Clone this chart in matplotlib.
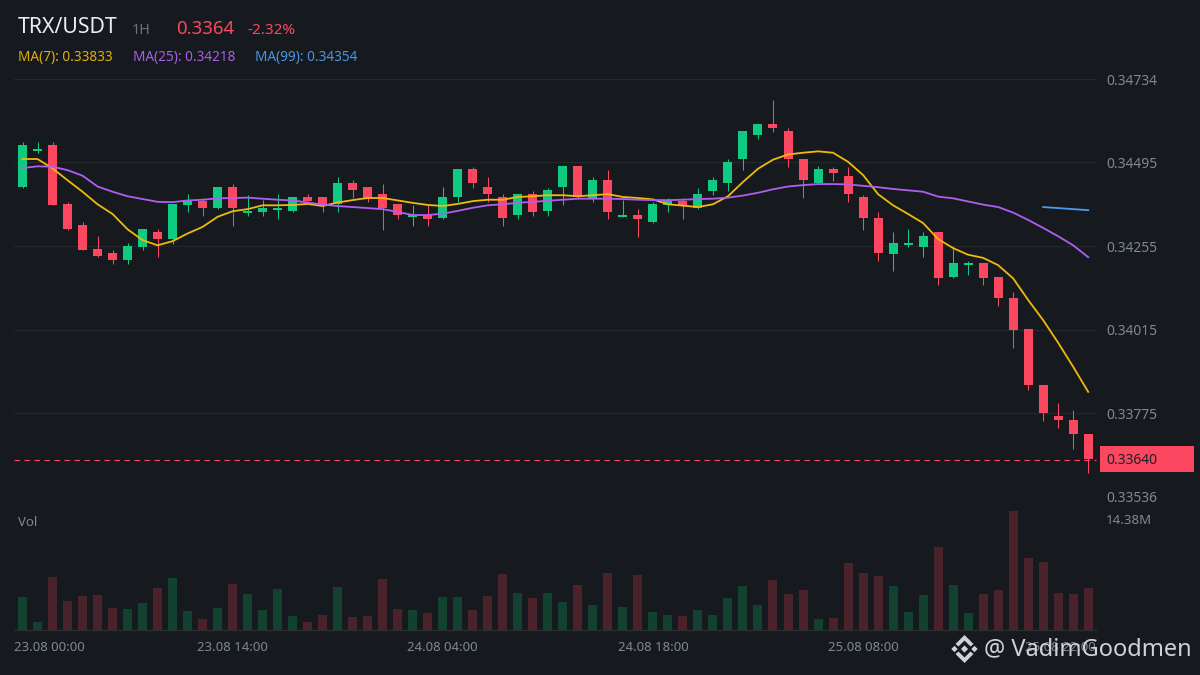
import matplotlib
matplotlib.use("Agg")
import matplotlib.pyplot as plt
from matplotlib.patches import Rectangle, Polygon
from matplotlib.transforms import IdentityTransform

plt.rcParams['font.family'] = ['Noto Sans', 'DejaVu Sans']

# Each candle: high, body top, body bottom, low (prices)
highs = [.34553,.34553,.34553,.34381,.34324,.34283,.34243,.34263,.34304,.34304,.34375,.34404,.34393,.34424,.34433,.34401,.34387,.34404,.34395,.34404,.34395,.34453,.34444,.34424,.34433,.34375,.34372,.34372,.34424,.34476,.34482,.34453,.34404,.34404,.34413,.34421,.34485,.34485,.34453,.34473,.34387,.34361,.34381,.34393,.34393,.34421,.34453,.34505,.34585,.34605,.34674,.34594,.34505,.34485,.34482,.34482,.34401,.34352,.34295,.34304,.34295,.34295,.34255,.34212,.34206,.34166,.34123,.34016,.33855,.33804,.33784,.33715]
body_top = [.34545,.34533,.34545,.34375,.34315,.34246,.34235,.34255,.34304,.34295,.34375,.34384,.34384,.34424,.34424,.34355,.34364,.34364,.34395,.34395,.34395,.34436,.34436,.34424,.34404,.34375,.34344,.34344,.34395,.34476,.34476,.34424,.34395,.34404,.34404,.34416,.34485,.34485,.34444,.34444,.34344,.34344,.34375,.34384,.34384,.34404,.34444,.34496,.34585,.34605,.34605,.34585,.34505,.34476,.34476,.34456,.34395,.34335,.34263,.34263,.34283,.34295,.34206,.34206,.34206,.34166,.34105,.34016,.33855,.33766,.33755,.33715]
body_bottom = [.34424,.34528,.34372,.34304,.34243,.34226,.34214,.34214,.34252,.34275,.34275,.34372,.34364,.34364,.34364,.34349,.34352,.34358,.34355,.34384,.34370,.34375,.34416,.34390,.34364,.34344,.34338,.34332,.34335,.34395,.34436,.34404,.34335,.34344,.34352,.34355,.34424,.34395,.34393,.34352,.34338,.34332,.34324,.34372,.34370,.34364,.34413,.34436,.34505,.34574,.34594,.34505,.34444,.34436,.34464,.34404,.34335,.34235,.34232,.34258,.34252,.34163,.34166,.34200,.34163,.34105,.34013,.33855,.33775,.33755,.33715,.33643]
lows = [.34421,.34523,.34372,.34301,.34243,.34223,.34203,.34203,.34243,.34223,.34260,.34352,.34341,.34361,.34312,.34341,.34341,.34332,.34352,.34384,.34352,.34352,.34393,.34381,.34301,.34332,.34312,.34312,.34332,.34381,.34421,.34381,.34312,.34332,.34341,.34341,.34372,.34393,.34381,.34332,.34338,.34281,.34321,.34352,.34332,.34361,.34401,.34413,.34473,.34562,.34582,.34482,.34393,.34436,.34441,.34381,.34301,.34212,.34183,.34252,.34223,.34143,.34163,.34171,.34143,.34082,.33962,.33841,.33752,.33732,.33672,.33603]
is_up = [1,1,0,0,0,0,0,1,1,0,1,1,0,1,0,1,1,1,1,0,0,1,0,0,0,0,1,0,1,1,0,0,0,1,0,1,1,0,1,0,1,0,1,1,0,1,1,1,1,1,0,0,0,1,0,0,0,0,1,1,1,0,1,1,0,0,0,0,0,0,0,0]
volumes = [4.02,.97,6.46,3.53,4.14,4.27,2.68,2.56,3.29,5.12,6.34,2.32,1.34,2.68,5.61,4.39,2.44,5.00,1.71,.97,1.83,5.24,1.58,1.71,6.22,2.56,2.44,2.07,4.02,4.02,2.44,4.14,6.82,4.51,3.90,4.51,3.41,5.48,3.05,6.94,2.80,6.70,2.19,1.83,1.71,2.44,1.83,3.90,5.36,3.05,6.09,4.39,4.87,1.34,1.46,8.04,6.94,6.58,5.36,2.19,4.27,9.99,5.48,2.07,4.39,4.87,14.38,8.65,8.16,4.51,4.39,5.12]
vol_colors_up = [1,1,0,0,0,0,0,1,1,0,1,1,0,1,0,1,1,1,1,0,0,1,0,0,0,0,1,0,1,1,0,0,0,1,0,1,1,0,1,0,1,0,1,1,0,1,1,1,1,1,0,0,0,1,0,0,0,0,1,1,1,0,1,1,0,0,0,0,0,0,0,0]
ma7 = [.34505,.34505,.34478,.34444,.34411,.34375,.34347,.34303,.34272,.34257,.34269,.34291,.34310,.34339,.34355,.34361,.34372,.34372,.34373,.34376,.34370,.34380,.34387,.34393,.34393,.34386,.34379,.34373,.34370,.34376,.34384,.34388,.34388,.34396,.34398,.34401,.34401,.34398,.34401,.34404,.34396,.34393,.34389,.34375,.34371,.34367,.34375,.34398,.34439,.34477,.34503,.34518,.34523,.34527,.34523,.34497,.34459,.34404,.34372,.34347,.34321,.34275,.34249,.34230,.34221,.34200,.34162,.34100,.34042,.33977,.33908,.33836]
ma25 = [.34479,.34484,.34483,.34473,.34457,.34426,.34411,.34398,.34390,.34382,.34381,.34386,.34388,.34392,.34393,.34394,.34391,.34388,.34386,.34380,.34374,.34370,.34367,.34364,.34361,.34353,.34344,.34344,.34348,.34356,.34365,.34372,.34375,.34379,.34382,.34385,.34388,.34391,.34391,.34391,.34390,.34388,.34387,.34387,.34388,.34390,.34391,.34394,.34400,.34408,.34418,.34426,.34430,.34433,.34433,.34432,.34428,.34424,.34419,.34415,.34411,.34397,.34392,.34383,.34374,.34367,.34351,.34330,.34307,.34283,.34257,.34223]
ma99_start = 68
ma99 = [.34367,.34364,.34361,.34358]
price_ticks = [0.34734,0.34495,0.34255,0.34015,0.33775,0.33536]
last_price = 0.3364
time_labels = ["23.08 00:00","23.08 14:00","24.08 04:00","24.08 18:00","25.08 08:00","25.08 22:00"]
time_ticks = [0,14,28,42,56,70]
vol_max = 14.38

BG = "#161A1E"
UP = "#0ECB81"
DOWN = "#FC4761"
UP_V = "#12422F"
DOWN_V = "#4A2229"
GRID = "#24272C"
TXT = "#7F8791"

W, H = 1200, 675
def fx(p): return p / W
def fy(p): return 1 - p / H

fig = plt.figure(figsize=(12, 6.75), dpi=100, facecolor=BG)
L, R = 14, 1096
x0 = -8.5 / 15.01
x1 = (R - 22.5) / 15.01

ax = fig.add_axes([fx(L), fy(496.3), fx(R - L), (496.3 - 79.3) / H], facecolor="none")
n = len(highs)
xs = list(range(n))
ax.set_xlim(x0, x1)
ax.set_ylim(price_ticks[-1], price_ticks[0])
cols = [UP if u else DOWN for u in is_up]
ax.vlines(xs, lows, highs, colors=cols, linewidth=0.75, zorder=3)
ax.bar(xs, [t - b for t, b in zip(body_top, body_bottom)], bottom=body_bottom, width=9 / 15.01,
       color=cols, linewidth=0, zorder=3)
ax.plot(xs, ma7, color="#F0B90B", lw=1.3, zorder=4)
ax.plot(xs, ma25, color="#B05EF0", lw=1.3, zorder=4)
ax.plot(xs[ma99_start:], ma99, color="#4A9BF0", lw=1.3, zorder=4)
ax.axhline(last_price, color=DOWN, lw=0.8, dashes=(5, 4), zorder=2, clip_on=False)
ax.yaxis.tick_right()
ax.set_yticks(price_ticks)
ax.set_yticklabels([f"{v:.5f}" for v in price_ticks], color=TXT, fontsize=10)
ax.set_xticks([])
ax.tick_params(axis='y', length=0, pad=7.2)
ax.grid(axis='y', color=GRID, lw=0.9, zorder=0)
for s in ax.spines.values():
    s.set_visible(False)

# last price tag
ax.add_patch(Rectangle((fx(1100), fy(472)), fx(94), 26 / H, transform=fig.transFigure,
                       facecolor=DOWN, edgecolor="none", zorder=5, clip_on=False))
ax.text((1106 - L) / (R - L), last_price, f"{last_price:.5f}", transform=ax.get_yaxis_transform(),
        color="#1E2026", fontsize=10, va="center", ha="left", clip_on=False, zorder=6)

# volume panel
vtop = 500
vax = fig.add_axes([fx(L), fy(630), fx(R - L), (630 - vtop) / H], facecolor="none")
vax.set_xlim(x0, x1)
vax.set_ylim(0, vol_max * (630 - vtop) / (630 - 511))
vax.bar(xs, volumes, width=9 / 15.01, color=[UP_V if u else DOWN_V for u in vol_colors_up], linewidth=0)
vax.set_yticks([])
vax.set_xticks(time_ticks[1:-1])
vax.set_xticklabels(time_labels[1:-1], color=TXT, fontsize=9.5)
vax.tick_params(axis='x', length=0, pad=8)
for k, s in vax.spines.items():
    s.set_visible(k == "bottom")
vax.spines["bottom"].set_color("#2B2F36")
vax.spines["bottom"].set_linewidth(0.9)
vax.text(0, -17.5 / 130, time_labels[0], transform=vax.transAxes, color=TXT, fontsize=9.5, ha="left", va="center")
vax.text(1, -17.5 / 130, time_labels[-1], transform=vax.transAxes, color=TXT, fontsize=9.5, ha="right", va="center")

def T(px, py, s, c, size, **kw):
    fig.text(fx(px), fy(py), s, color=c, fontsize=size, va="center", ha=kw.pop("ha", "left"), **kw)

T(18, 27.5, "TRX/USDT", "#EAECEF", 15.3)
T(132, 30, "1H", "#6D737C", 10.2)
T(176.5, 28.5, "0.3364", DOWN, 13.4)
T(247, 30, "-2.32%", DOWN, 11)
T(18, 58, "MA(7): 0.33833", "#E0AC0E", 9.8)
T(133, 58, "MA(25): 0.34218", "#A55FE8", 9.8)
T(255, 58, "MA(99): 0.34354", "#4A94E6", 9.8)
T(18, 523, "Vol", TXT, 9.5)
T(1106, 521, "14.38M", TXT, 9.6)

# watermark
T(984, 649, "@ VadimGoodmen", "#CFD2D6", 17, zorder=10)
LOGO = "#CFD2D6"
cx, cy = 964.5, H - 649
def diamond(dx, dy, r):
    return [(cx + dx, cy + dy + r), (cx + dx + r, cy + dy), (cx + dx, cy + dy - r), (cx + dx - r, cy + dy)]
for dx, dy, r in [(0, 0, 3.6), (-10, 0, 3.2), (10, 0, 3.2)]:
    fig.add_artist(Polygon(diamond(dx, dy, r), transform=IdentityTransform(), facecolor=LOGO, edgecolor="none", zorder=10))
for sgn in (1, -1):
    pts = [(cx - 9, cy + sgn * 5), (cx, cy + sgn * 14), (cx + 9, cy + sgn * 5), (cx + 6, cy + sgn * 2.5),
           (cx, cy + sgn * 8.5), (cx - 6, cy + sgn * 2.5)]
    fig.add_artist(Polygon(pts, transform=IdentityTransform(), facecolor=LOGO, edgecolor="none", zorder=10))

fig.savefig("out.png", dpi=100, facecolor=BG)
